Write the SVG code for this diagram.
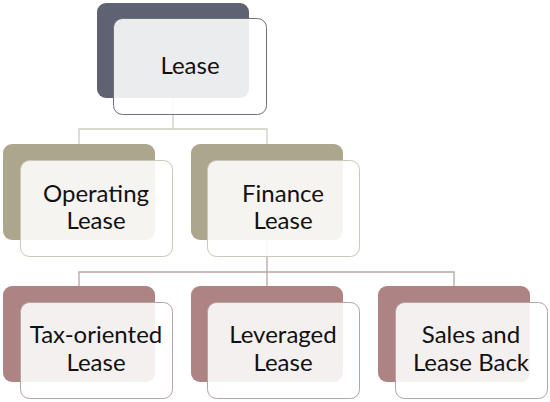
<svg xmlns="http://www.w3.org/2000/svg" width="550" height="402" viewBox="0 0 550 402">
<style>
.bg{stroke:none}
.l1b{fill:#5f6273}
.l2b{fill:#aca78c}
.l3b{fill:#ae8383}
.card{fill:#ffffff;fill-opacity:0.88;stroke-width:1}
.l1c{stroke:#6e707a}
.l2c{stroke:#cbc7b8}
.l3c{stroke:#b8a2a2}
.t{font-family:Lato,"Open Sans",sans-serif;font-size:24px;fill:#111;text-anchor:middle}
.c1{fill:none;stroke:#cfcbbd;stroke-width:1.3}
.c2{fill:none;stroke:#b7a6a6;stroke-width:1.3}
</style>
<rect width="550" height="402" fill="#ffffff"/>
<g id="connectors">
<path class="c1" d="M173 98V129H79V144M173 129H267V144"/>
<path class="c2" d="M267 240V272H79V286M267 272V286M267 272H454V286"/>
</g>
<g id="lease">
<rect class="bg l1b" x="97" y="3" width="152" height="95" rx="9"/>
<rect class="card l1c" x="113.5" y="18.5" width="153" height="96" rx="9"/>
<text class="t" x="190" y="74">Lease</text>
</g>
<g id="operating">
<rect class="bg l2b" x="3" y="144" width="152" height="96" rx="9"/>
<rect class="card l2c" x="20.5" y="160.5" width="152" height="96" rx="9"/>
<text class="t" x="96" y="202">Operating</text>
<text class="t" x="96" y="229">Lease</text>
</g>
<g id="finance">
<rect class="bg l2b" x="191" y="144" width="152" height="96" rx="9"/>
<rect class="card l2c" x="207.5" y="160.5" width="152" height="96" rx="9"/>
<text class="t" x="283" y="202">Finance</text>
<text class="t" x="283" y="229">Lease</text>
</g>
<g id="tax">
<rect class="bg l3b" x="3" y="286" width="152" height="96" rx="9"/>
<rect class="card l3c" x="20.5" y="302.5" width="152" height="96" rx="9"/>
<text class="t" x="96" y="343">Tax-oriented</text>
<text class="t" x="96" y="371">Lease</text>
</g>
<g id="leveraged">
<rect class="bg l3b" x="191" y="286" width="152" height="96" rx="9"/>
<rect class="card l3c" x="207.5" y="302.5" width="152" height="96" rx="9"/>
<text class="t" x="283" y="343">Leveraged</text>
<text class="t" x="283" y="371">Lease</text>
</g>
<g id="sales">
<rect class="bg l3b" x="378" y="286" width="152" height="96" rx="9"/>
<rect class="card l3c" x="395.5" y="302.5" width="152" height="96" rx="9"/>
<text class="t" x="471" y="343">Sales and</text>
<text class="t" x="471" y="371">Lease Back</text>
</g>
</svg>
